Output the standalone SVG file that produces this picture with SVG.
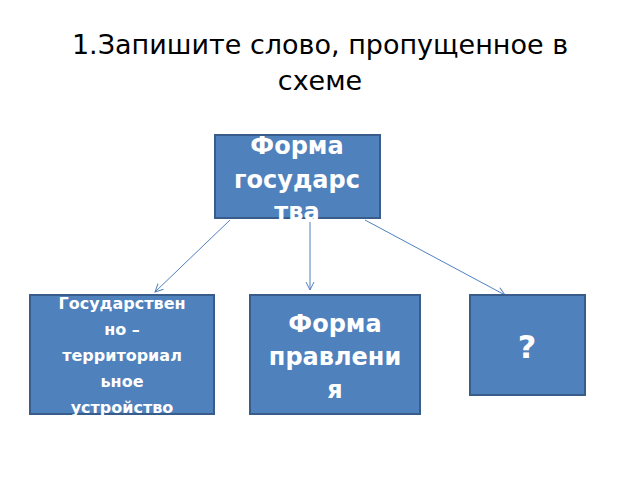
<svg xmlns="http://www.w3.org/2000/svg" width="640" height="480" viewBox="0 0 640 480">
<style>
.t{font-family:"DejaVu Sans","Liberation Sans",sans-serif;fill:#000;font-size:27px;text-anchor:middle}
.b{fill:#4F81BD;stroke:#385D8A;stroke-width:2}
.w{font-family:"DejaVu Sans","Liberation Sans",sans-serif;fill:#fff;font-weight:bold;text-anchor:middle}
.c{stroke:#4F81BD;stroke-width:1;fill:none;marker-end:url(#a)}
</style>
<defs><marker id="a" markerWidth="10" markerHeight="10" refX="9" refY="5" orient="auto" markerUnits="userSpaceOnUse"><path d="M1,1 L9,5 L1,9" fill="none" stroke="#4F81BD"/></marker></defs>
<rect width="640" height="480" fill="#fff"/>
<text class="t" x="320" y="54">1.Запишите слово, пропущенное в</text>
<text class="t" x="320" y="90">схеме</text>
<g id="connectors">
<line class="c" x1="230" y1="220" x2="155" y2="292"/>
<line class="c" x1="310" y1="222" x2="310" y2="290"/>
<line class="c" x1="365" y1="220" x2="505" y2="295"/>
</g>
<g id="top"><rect class="b" x="215" y="135" width="165" height="83"/>
<text class="w" font-size="24"><tspan x="297" y="154">Форма</tspan><tspan x="297" y="188">государс</tspan><tspan x="297" y="220">тва</tspan></text></g>
<g id="left"><rect class="b" x="30" y="295" width="184" height="119"/>
<text class="w" font-size="16"><tspan x="122" y="309">Государствен</tspan><tspan x="122" y="335">но –</tspan><tspan x="122" y="361">территориал</tspan><tspan x="122" y="387">ьное</tspan><tspan x="122" y="413">устройство</tspan></text></g>
<g id="mid"><rect class="b" x="250" y="295" width="170" height="119"/>
<text class="w" font-size="24"><tspan x="335" y="332">Форма</tspan><tspan x="335" y="365">правлени</tspan><tspan x="335" y="398">я</tspan></text></g>
<g id="right"><rect class="b" x="470" y="295" width="115" height="100"/>
<text class="w" font-size="32" x="527" y="358">?</text></g>
</svg>
